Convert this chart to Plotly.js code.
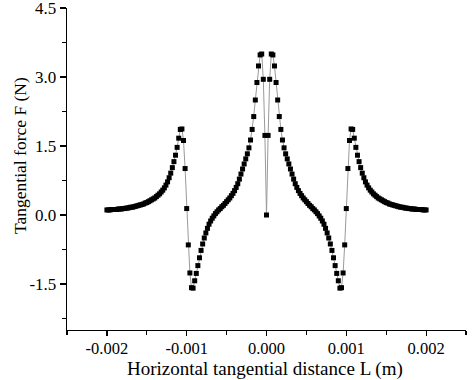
<!DOCTYPE html>
<html><head><meta charset="utf-8">
<script src="https://cdn.plot.ly/plotly-3.0.1.min.js"></script>
<style>html,body{margin:0;padding:0;background:#fff}#chart{width:474px;height:380px}</style>
</head><body><div id="chart"></div>
<script>
// Horizontal tangential distance L: uniform sampling from -0.002 m in steps of 0.00002 m (201 samples)
const L_START = -0.002;
const L_STEP = 0.00002;
// Tangential force F (N)
const forceF = [
  0.11,0.11,0.11,0.12,0.12,0.12,0.12,0.13,0.13,0.13,
  0.14,0.14,0.15,0.15,0.16,0.17,0.17,0.18,0.19,0.20,
  0.21,0.22,0.23,0.24,0.26,0.27,0.29,0.31,0.33,0.35,
  0.37,0.40,0.43,0.46,0.50,0.54,0.59,0.65,0.72,0.81,
  0.91,1.03,1.16,1.30,1.47,1.67,1.86,1.87,1.62,1.01,
  0.14,-0.65,-1.26,-1.58,-1.59,-1.43,-1.27,-1.10,-0.93,-0.77,
  -0.63,-0.50,-0.39,-0.29,-0.20,-0.13,-0.07,-0.02,0.03,0.07,
  0.11,0.14,0.18,0.21,0.25,0.29,0.33,0.37,0.42,0.47,
  0.53,0.60,0.68,0.78,0.89,1.00,1.11,1.22,1.33,1.46,
  1.63,1.86,2.14,2.50,2.88,3.24,3.48,3.50,2.95,1.73,
  0.00,
  1.73,2.95,3.50,3.48,3.24,2.88,2.50,2.14,1.86,1.63,
  1.46,1.33,1.22,1.11,1.00,0.89,0.78,0.68,0.60,0.53,
  0.47,0.42,0.37,0.33,0.29,0.25,0.21,0.18,0.14,0.11,
  0.07,0.03,-0.02,-0.07,-0.13,-0.20,-0.29,-0.39,-0.50,-0.63,
  -0.77,-0.93,-1.10,-1.27,-1.43,-1.59,-1.58,-1.26,-0.65,0.14,
  1.01,1.62,1.87,1.86,1.67,1.47,1.30,1.16,1.03,0.91,
  0.81,0.72,0.65,0.59,0.54,0.50,0.46,0.43,0.40,0.37,
  0.35,0.33,0.31,0.29,0.27,0.26,0.24,0.23,0.22,0.21,
  0.20,0.19,0.18,0.17,0.17,0.16,0.15,0.15,0.14,0.14,
  0.13,0.13,0.13,0.12,0.12,0.12,0.12,0.11,0.11,0.11
];
const xTickVals = [-0.002,-0.001,0,0.001,0.002];
const xTickText = ["-0.002","-0.001","0.000","0.001","0.002"];
const xMinorVals = [-0.0025,-0.0015,-0.0005,0.0005,0.0015,0.0025];
const yTickVals = [-1.5,0,1.5,3,4.5];
const yTickText = ["-1.5","0.0","1.5","3.0","4.5"];
const yMinorVals = [-2.25,-0.75,0.75,2.25,3.75];
const xTitle = "Horizontal tangential distance L (m)";
const yTitle = "Tangential force F (N)";

const FONT = "Liberation Serif, Times New Roman, serif";

const trace = {
  type: "scatter",
  mode: "lines+markers",
  x0: L_START,
  dx: L_STEP,
  y: forceF,
  line: {color: "#9a9a9a", width: 1},
  marker: {symbol: "square", size: 5, color: "#000"},
  hoverinfo: "x+y",
  showlegend: false
};

const axisCommon = {
  showgrid: false,
  zeroline: false,
  showline: true,
  linecolor: "#000",
  linewidth: 1.3,
  ticks: "outside",
  ticklen: 6,
  tickwidth: 1.2,
  tickcolor: "#000",
  tickfont: {family: FONT, size: 17, color: "#000"},
  ticklabeloverflow: "allow",
  tickmode: "array"
};

const layout = {
  width: 474,
  height: 380,
  margin: {l: 67, r: 8, t: 8, b: 50},
  paper_bgcolor: "#fff",
  plot_bgcolor: "#fff",
  font: {family: FONT, color: "#000"},
  xaxis: Object.assign({}, axisCommon, {
    range: [-0.0025, 0.0025],
    tickvals: xTickVals,
    ticktext: xTickText,
    ticklen: 5,
    ticklabelstandoff: -2,
    tickfont: {family: FONT, size: 16.5, color: "#000"},
    minor: {tickmode: "array", tickvals: xMinorVals, ticks: "outside", ticklen: 3.5, tickwidth: 1.2, tickcolor: "#000"},
    title: {text: ""}
  }),
  yaxis: Object.assign({}, axisCommon, {
    range: [-2.5, 4.5001],
    tickvals: yTickVals,
    ticktext: yTickText,
    minor: {tickmode: "array", tickvals: yMinorVals, ticks: "outside", ticklen: 3.5, tickwidth: 1.2, tickcolor: "#000"},
    title: {text: ""}
  }),
  annotations: [{
    text: yTitle,
    xref: "paper", yref: "paper",
    x: -0.118, y: 0.5435,
    xanchor: "center", yanchor: "middle",
    textangle: -90,
    showarrow: false,
    font: {family: FONT, size: 17.5, color: "#000"}
  }, {
    text: xTitle,
    xref: "paper", yref: "paper",
    x: 0.495, y: -0.1225,
    xanchor: "center", yanchor: "middle",
    showarrow: false,
    font: {family: FONT, size: 19, color: "#000"}
  }]
};

Plotly.newPlot("chart", [trace], layout, {staticPlot: true, displayModeBar: false});
</script>
</body></html>
